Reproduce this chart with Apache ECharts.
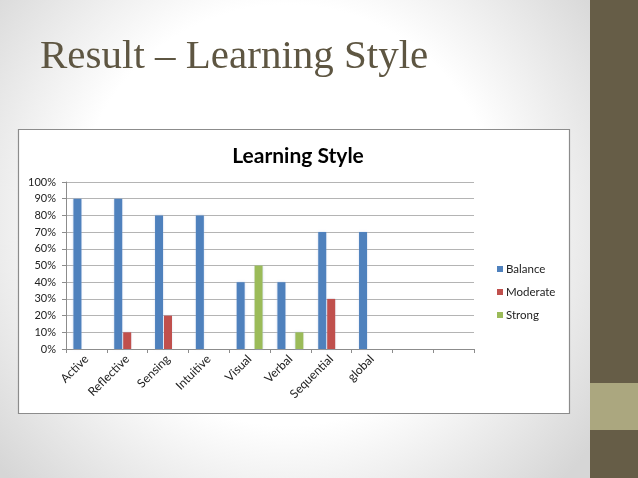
<!DOCTYPE html>
<html><head><meta charset="utf-8">
<script src="https://cdn.jsdelivr.net/npm/echarts@6/dist/echarts.min.js"></script>
<style>html,body{margin:0;padding:0;}#c{width:638px;height:478px;}</style>
</head><body><div id="c"></div>
<script>
const categories = ['Active','Reflective','Sensing','Intuitive','Visual','Verbal','Sequential','global',' ','  '];
const balance  = [90, 90, 80, 80, 40, 40, 70, 70, null, null];
const moderate = [null, 10, 20, null, null, null, 30, null, null, null];
const strong   = [null, null, null, null, 50, 10, null, null, null, null];
const yTicks = [0, 10, 20, 30, 40, 50, 60, 70, 80, 90, 100];

const chart = echarts.init(document.getElementById('c'), null, {renderer:'canvas'});
const font = 'Lato, "Open Sans", sans-serif';
function bar(name, data, color){
  return {name, type:'bar', data, barWidth:8, barGap:'12%', barCategoryGap:'34%',
    itemStyle:{color, shadowColor:'rgba(180,200,230,0.6)', shadowBlur:2}};
}
chart.setOption({
  animation:false,
  backgroundColor:{type:'radial', x:0.45, y:0.45, r:0.8,
    colorStops:[{offset:0,color:'#ffffff'},{offset:0.55,color:'#ffffff'},{offset:1,color:'#d6d6d6'}]},
  graphic:[
    {type:'rect', shape:{x:590,y:0,width:48,height:478}, style:{fill:'#665d47'}, z:0},
    {type:'rect', shape:{x:590,y:383,width:48,height:47}, style:{fill:'#aba77f'}, z:0},
    {type:'rect', shape:{x:18.5,y:129.5,width:551,height:284}, style:{fill:'#ffffff', stroke:'#8c8c8c', lineWidth:1.2}, z:-1},
    {type:'text', left:40, top:37, style:{text:'Result – Learning Style', font:'41px "Liberation Serif", serif', fill:'#5e5642'}}
  ],
  title:{text:'Learning Style', left:293, textAlign:'center', top:141,
    textStyle:{fontFamily:font, fontWeight:'bold', fontSize:21, color:'#000'}},
  legend:{orient:'vertical', left:492, top:258, itemWidth:6, itemHeight:6, itemGap:11,
    icon:'rect', textStyle:{fontFamily:font, fontSize:11.5, color:'#222', padding:[0,0,0,-2]},
    data:['Balance','Moderate','Strong']},
  grid:{left:66, right:164, top:182, bottom:129, containLabel:false},
  xAxis:{type:'category', data:categories,
    axisLine:{lineStyle:{color:'#8c8c8c'}},
    axisTick:{show:true, length:4, inside:false, interval:0, lineStyle:{color:'#8c8c8c'}},
    axisLabel:{interval:0, rotate:45, fontFamily:font, fontSize:12, color:'#222', margin:8}},
  yAxis:{type:'value', min:0, max:100, interval:10,
    axisLine:{show:true, lineStyle:{color:'#8c8c8c'}},
    axisTick:{show:true, length:4, lineStyle:{color:'#8c8c8c'}},
    splitLine:{lineStyle:{color:'#b4b4b4'}},
    axisLabel:{formatter:v=>v+'%', fontFamily:font, fontSize:11, color:'#222', margin:10}},
  series:[bar('Balance',balance,'#4f81bd'), bar('Moderate',moderate,'#c0504d'), bar('Strong',strong,'#9bbb59')]
});
</script></body></html>
